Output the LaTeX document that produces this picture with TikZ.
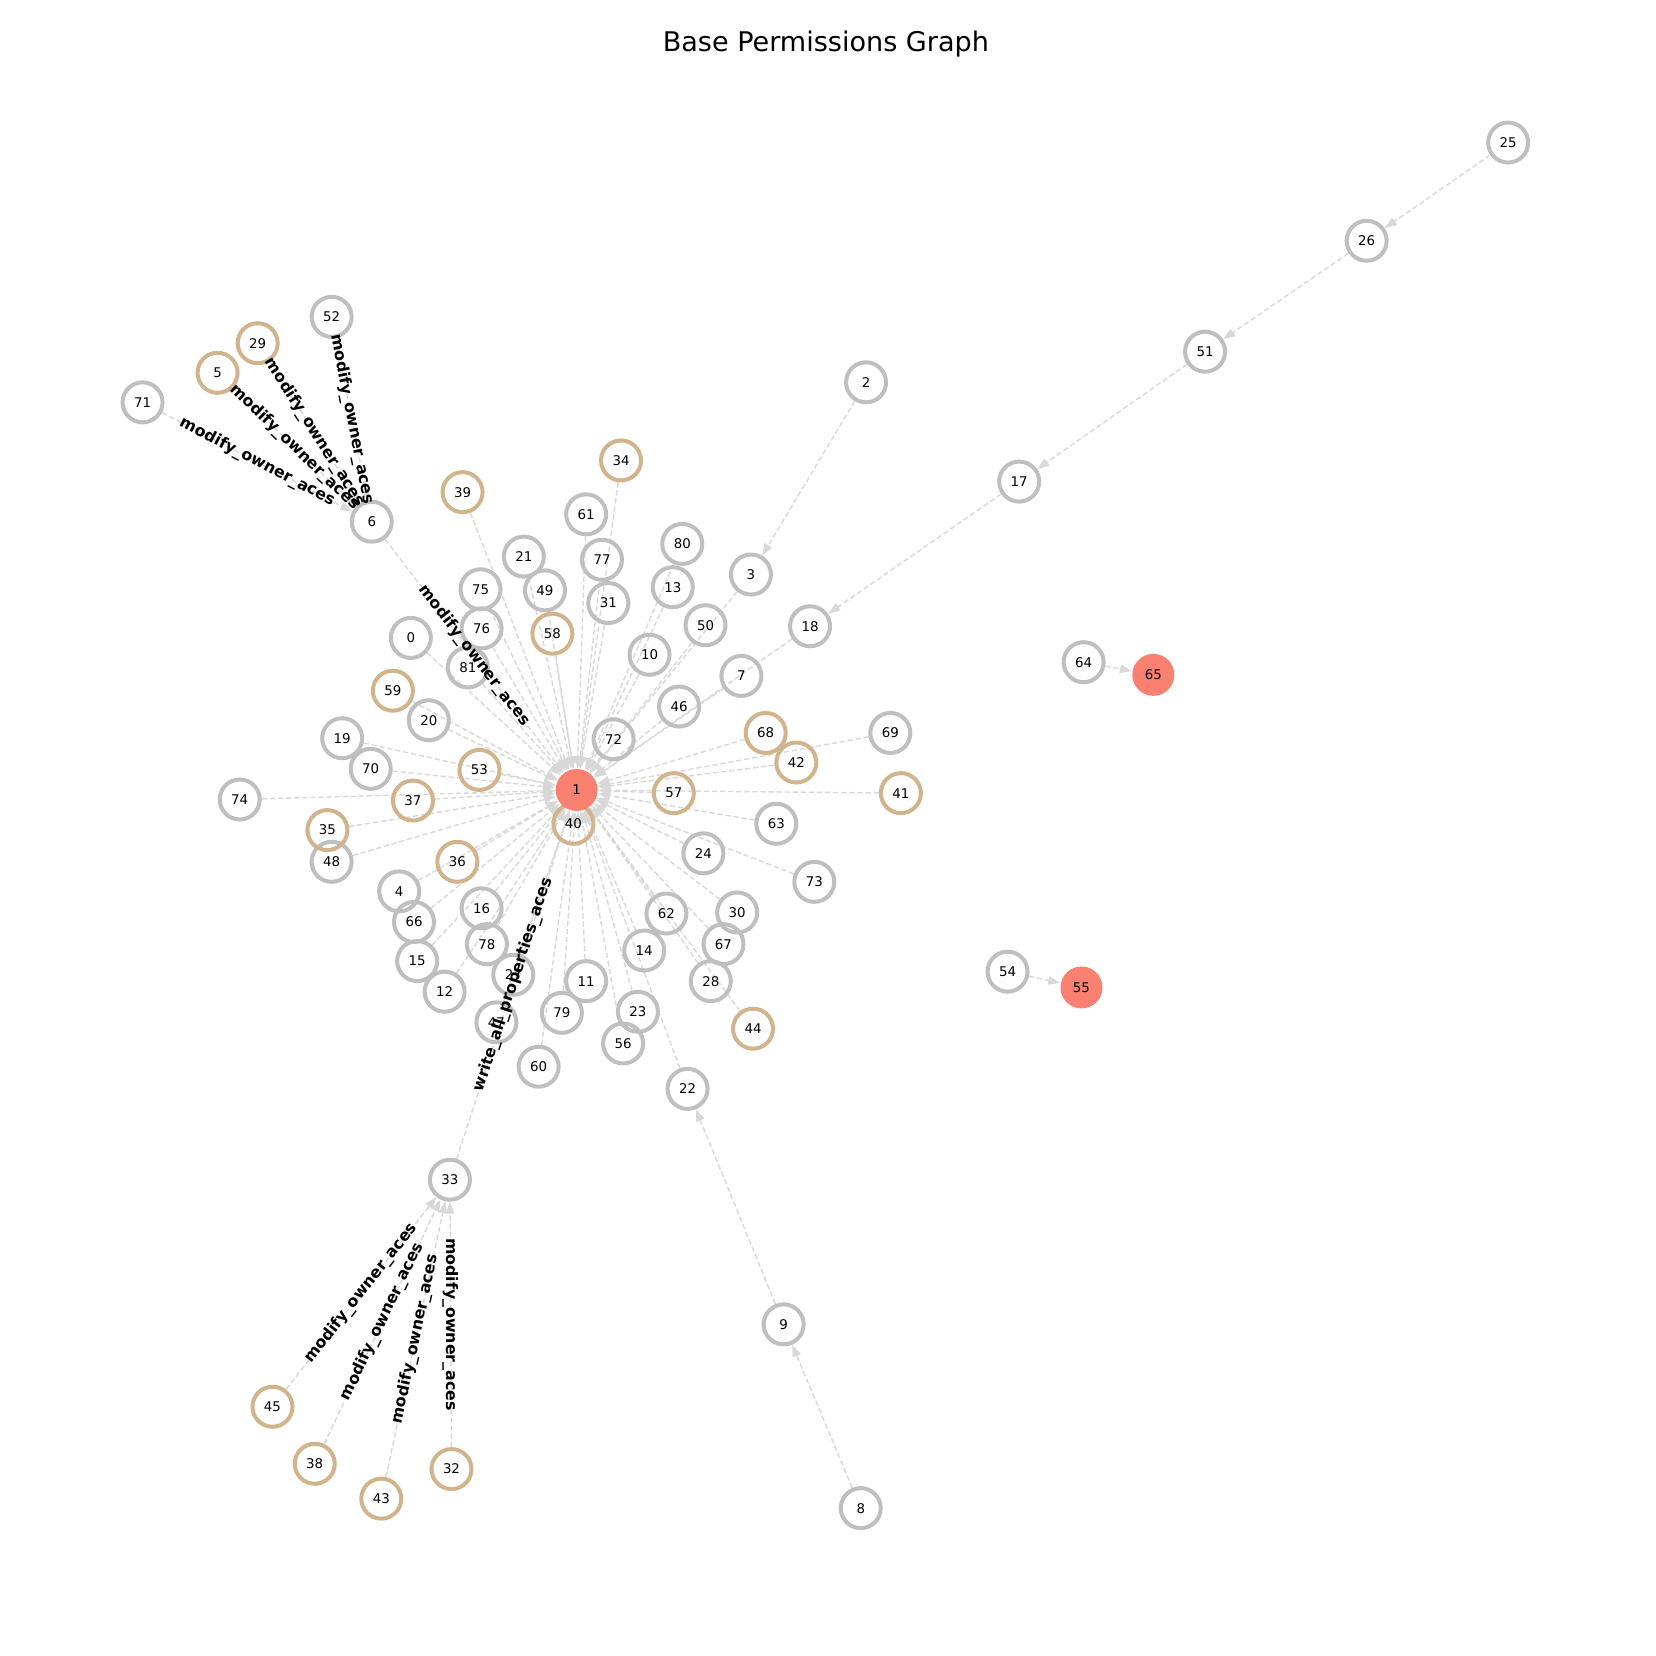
\documentclass[tikz,border=0pt]{standalone}
\usepackage{fontspec}
\setmainfont{DejaVu Sans}
\usetikzlibrary{arrows.meta,backgrounds}

\definecolor{ringgray}{HTML}{BFBFBF}
\definecolor{ringtan}{HTML}{D2B48C}
\definecolor{hubred}{HTML}{FA8072}
\definecolor{edgegray}{HTML}{D8D8D8}
\newcommand\vertexfont{\fontsize{3.8}{4}\selectfont}
\newcommand\relfont{\fontsize{4.5}{5}\bfseries\selectfont}

\begin{document}
\begin{tikzpicture}[x=0.010561cm, y=-0.010561cm,
    plain/.style={circle, draw=ringgray, line width=0.04cm, minimum size=0.40cm, inner sep=0pt, font=\vertexfont},
    owner/.style={plain, draw=ringtan},
    hub/.style={circle, fill=hubred, minimum size=0.42cm, inner sep=0pt, font=\vertexfont},
    link/.style={draw=edgegray, line width=0.4pt, dash pattern=on 1.5pt off 0.8pt, -{Triangle[length=1.2mm,width=0.85mm]}},
    elabel/.style={font=\relfont, sloped, inner sep=0pt}]
    \useasboundingbox (0,0) rectangle (1568,1568);

    % Title
    \node (title) at (782,42) {\fontsize{7.7}{9}\selectfont Base Permissions Graph};

    % Plain principals
    \foreach \id/\x/\y in {0/389/604, 2/820/362, 3/711/544, 4/378/844, 6/352/494, 7/702/640,
        8/815/1428, 9/742/1254, 10/615/620, 11/555/929, 12/421/939, 13/637/556, 14/610/900,
        15/395/910, 16/456/860, 17/965/456, 18/767/593, 19/324/699, 20/406/682, 21/496/527,
        22/651/1031, 23/604/958, 24/666/808, 25/1428/135, 26/1294/228, 27/486/923, 28/673/929,
        30/698/864, 31/576/571, 33/426/1117, 46/643/669, 47/470/968, 48/314/816, 49/516/559,
        50/668/592, 51/1141/333, 52/314/300, 54/954/920, 56/590/988, 60/510/1010, 61/555/487,
        62/631/865, 63/735/780, 64/1026/627, 66/392/873, 67/685/894, 69/843/694, 70/351/728,
        71/135/381, 72/581/700, 73/771/835, 74/227/757, 75/455/558, 76/456/595, 77/570/530,
        78/461/894, 79/532/959, 80/646/515, 81/443/632}
        \node[plain] (n\id) at (\x,\y) {\id};

    % Owners
    \foreach \id/\x/\y in {5/206/353, 29/244/325, 32/427.5/1391, 34/588/436, 35/310/786,
        36/433/816, 37/391/758, 38/298/1386, 39/438/466, 40/543/780, 41/853/751, 42/754/722,
        43/361/1419, 44/713/974, 45/258/1332, 53/454/729, 57/638/751, 58/523/600, 59/372/654,
        68/725/694}
        \node[owner] (n\id) at (\x,\y) {\id};

    % Targets
    \foreach \id/\x/\y in {1/546/748, 55/1024/935, 65/1092/639}
        \node[hub] (n\id) at (\x,\y) {\id};

    % Edges
    \begin{scope}[on background layer]
        \foreach \a in {0,3,4,7,10,11,12,13,14,15,16,18,19,20,21,22,23,24,27,28,30,31,34,35,36,
            37,39,40,41,42,44,46,47,48,49,50,53,56,57,58,59,60,61,62,63,66,67,68,69,70,72,73,74,
            75,76,77,78,79,80,81,6,33}
            \draw[link] (n\a) -- (n1);
        \foreach \a/\b in {25/26, 26/51, 51/17, 17/18, 2/3, 8/9, 9/22, 64/65, 54/55,
            45/33, 38/33, 43/33, 32/33, 71/6, 5/6, 29/6, 52/6}
            \draw[link] (n\a) -- (n\b);
    \end{scope}

    % Edge labels
    \foreach \a/\b in {45/33, 38/33, 43/33, 32/33, 71/6, 5/6, 29/6, 52/6, 6/1}
        \path (n\a.center) -- node[elabel] {modify\_owner\_aces} (n\b.center);
    \path (n33.center) -- node[elabel] {write\_all\_properties\_aces} (n1.center);
\end{tikzpicture}
\end{document}
